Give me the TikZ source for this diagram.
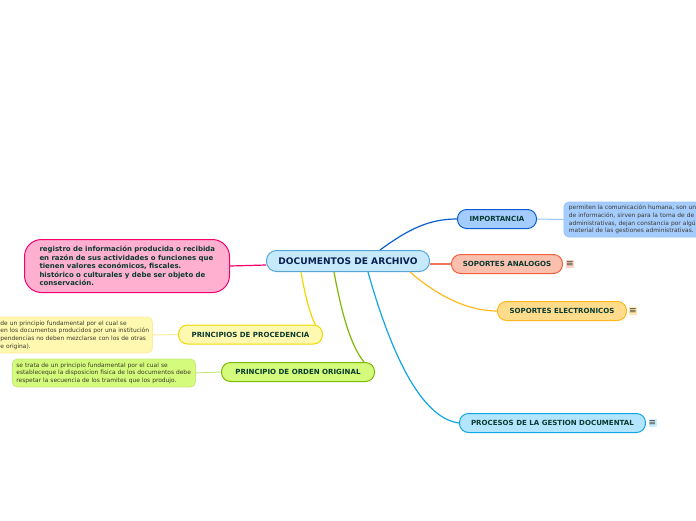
\documentclass[tikz,border=0pt]{standalone}
\usepackage{fontspec}
\setmainfont{DejaVu Sans}
\definecolor{cRootF}{HTML}{C6E9FC}\definecolor{cRootD}{HTML}{5AA5D8}
\definecolor{cImpF}{HTML}{A5CCFF}\definecolor{cImpD}{HTML}{0A5FD0}\definecolor{cImpL}{HTML}{9AC2F5}
\definecolor{cAnaF}{HTML}{FBBFAE}\definecolor{cAnaD}{HTML}{F0603A}
\definecolor{cEleF}{HTML}{FFDC8C}\definecolor{cEleD}{HTML}{FFB81C}
\definecolor{cProF}{HTML}{B3E5FF}\definecolor{cProD}{HTML}{12A5E5}
\definecolor{cPriF}{HTML}{FFF8B0}\definecolor{cPriD}{HTML}{F0D800}
\definecolor{cOrdF}{HTML}{D4FB7C}\definecolor{cOrdD}{HTML}{7FB800}
\definecolor{cPinkF}{HTML}{FFB0D0}\definecolor{cPinkD}{HTML}{F5006E}
\definecolor{cNavy}{HTML}{0A2050}\definecolor{cLabel}{HTML}{0A3A30}\definecolor{cNote}{HTML}{3A3A2A}
\newcommand{\nline}[2][0pt]{\mbox{\hspace*{#1}#2}}
\tikzset{
  x=1pt,y=-1pt,
  topic/.style={rounded corners=9pt,draw,line width=1pt,inner sep=0pt,text=cLabel,
    font=\fontsize{7.05}{8}\selectfont\bfseries,anchor=center},
  note/.style={rounded corners=5pt,draw,line width=.8pt,inner xsep=0pt,inner ysep=0pt,text=cNote,anchor=west,
    align=left,font=\fontsize{5.93}{7.6}\selectfont},
  conn/.style={line width=1.2pt},
  lead/.style={line width=1pt},
  mark box/.style={inner sep=0pt,minimum width=8pt,minimum height=8pt,text=cNote,font=\fontsize{9}{9}\selectfont},
}
\begin{document}
\begin{tikzpicture}
\useasboundingbox (0,0) rectangle (696,520);
\clip (0,0) rectangle (696,520);
% central and main topics
\node[topic,fill=cRootF,draw=cRootD,text=cNavy,minimum width=163pt,minimum height=21pt,rounded corners=10pt,
  font=\fontsize{9.1}{10}\selectfont\bfseries] (root) at (348,261) {DOCUMENTOS DE ARCHIVO};
\node[topic,fill=cImpF,draw=cImpD,minimum width=79pt,minimum height=19pt] (imp) at (497,219) {IMPORTANCIA};
\node[topic,fill=cAnaF,draw=cAnaD,minimum width=111pt,minimum height=19pt] (ana) at (507,264) {SOPORTES ANALOGOS};
\node[topic,fill=cEleF,draw=cEleD,minimum width=129pt,minimum height=19pt] (ele) at (562,311) {SOPORTES ELECTRONICOS};
\node[topic,fill=cProF,draw=cProD,minimum width=186pt,minimum height=19pt] (pro) at (552.5,423) {PROCESOS DE LA GESTION DOCUMENTAL};
\node[topic,fill=cPriF,draw=cPriD,minimum width=144pt,minimum height=19pt] (pri) at (250.5,334.5) {PRINCIPIOS DE PROCEDENCIA};
\node[topic,fill=cOrdF,draw=cOrdD,minimum width=153pt,minimum height=19pt] (ord) at (298,372) {PRINCIPIO DE ORDEN ORIGINAL};
\node[rounded corners=17pt,draw=cPinkD,fill=cPinkF,line width=1pt,anchor=west,minimum width=205pt,minimum height=53pt,
  inner xsep=15pt,inner ysep=0pt,text width=175pt,align=left,text=cLabel,
  font=\fontsize{6.98}{8.6}\selectfont\bfseries] (pink) at (24,266) {%
  \nline{registro de información producida o recibida}\\
  \nline{en razón de sus actividades o funciones que}\\
  \nline{tienen valores económicos, fiscales.}\\
  \nline{histórico o culturales y debe ser objeto de}\\
  \nline{conservación.}};
% notes
\node[note,fill=cImpF,draw=cImpL,minimum width=150pt,minimum height=35pt,inner xsep=5pt,text width=140pt] (impn) at (563.5,219.5) {%
  \nline{permiten la comunicación humana, son un}\\
  \nline{de información, sirven para la toma de de}\\
  \nline{administrativas, dejan constancia por algú}\\
  \nline{material de las gestiones administrativas.}};
\node[note,fill=cPriF,draw=cPriF!90!orange,minimum width=172pt,minimum height=36pt,text width=172pt] (prin) at (-20,335) {%
  \nline[20pt]{de un principio fundamental por el cual se}\\
  \nline[20pt]{en los documentos producidos por una institución}\\
  \nline[20pt]{pendencias no deben mezclarse con los de otras}\\
  \nline[20pt]{e origina).}};
\node[note,fill=cOrdF,draw=cOrdF!85!gray,minimum width=183pt,minimum height=28pt,text width=179pt,inner xsep=2pt] (ordn) at (12,373) {%
  \nline[2pt]{se trata de un principio fundamental por el cual se}\\
  \nline[2pt]{estableceque la disposicion fisica de los documentos debe}\\
  \nline[2pt]{respetar la secuencia de los tramites que los produjo.}};
% collapse marks
\node[mark box,fill=cAnaF!70!white] (anam) at (570,264) {≡};
\node[mark box,fill=cEleF!70!white] (elem) at (633,311) {≡};
\node[mark box,fill=cProF!70!white] (prom) at (652.5,423) {≡};
% connectors
\draw[conn,draw=cPinkD] (root.west |- 0,265) -- (pink.east);
\draw[conn,draw=cImpD] ([xshift=32pt]root.north) .. controls (410,228) and (430,219) .. (imp.west);
\draw[conn,draw=cAnaD!85!white] ([yshift=-3pt]root.east) -- (ana.west);
\draw[conn,draw=cEleD] ([xshift=62pt]root.south) .. controls (440,298) and (470,311) .. (ele.west);
\draw[conn,draw=cProD] ([xshift=20pt]root.south) .. controls (390,350) and (420,418) .. (pro.west);
\draw[conn,draw=cPriD] ([xshift=-47pt]root.south) .. controls (305,295) and (310,315) .. ([xshift=65pt]pri.north);
\draw[conn,draw=cOrdD] ([xshift=-14pt]root.south) .. controls (341,310) and (350,345) .. ([xshift=66pt]ord.north);
\draw[lead,draw=cImpL] (imp.east) -- (impn.west);
\draw[lead,draw=cPriF!90!orange] (pri.west) -- (prin.east);
\draw[lead,draw=cOrdF!85!gray] (ord.west) -- (ordn.east);
\end{tikzpicture}
\end{document}
